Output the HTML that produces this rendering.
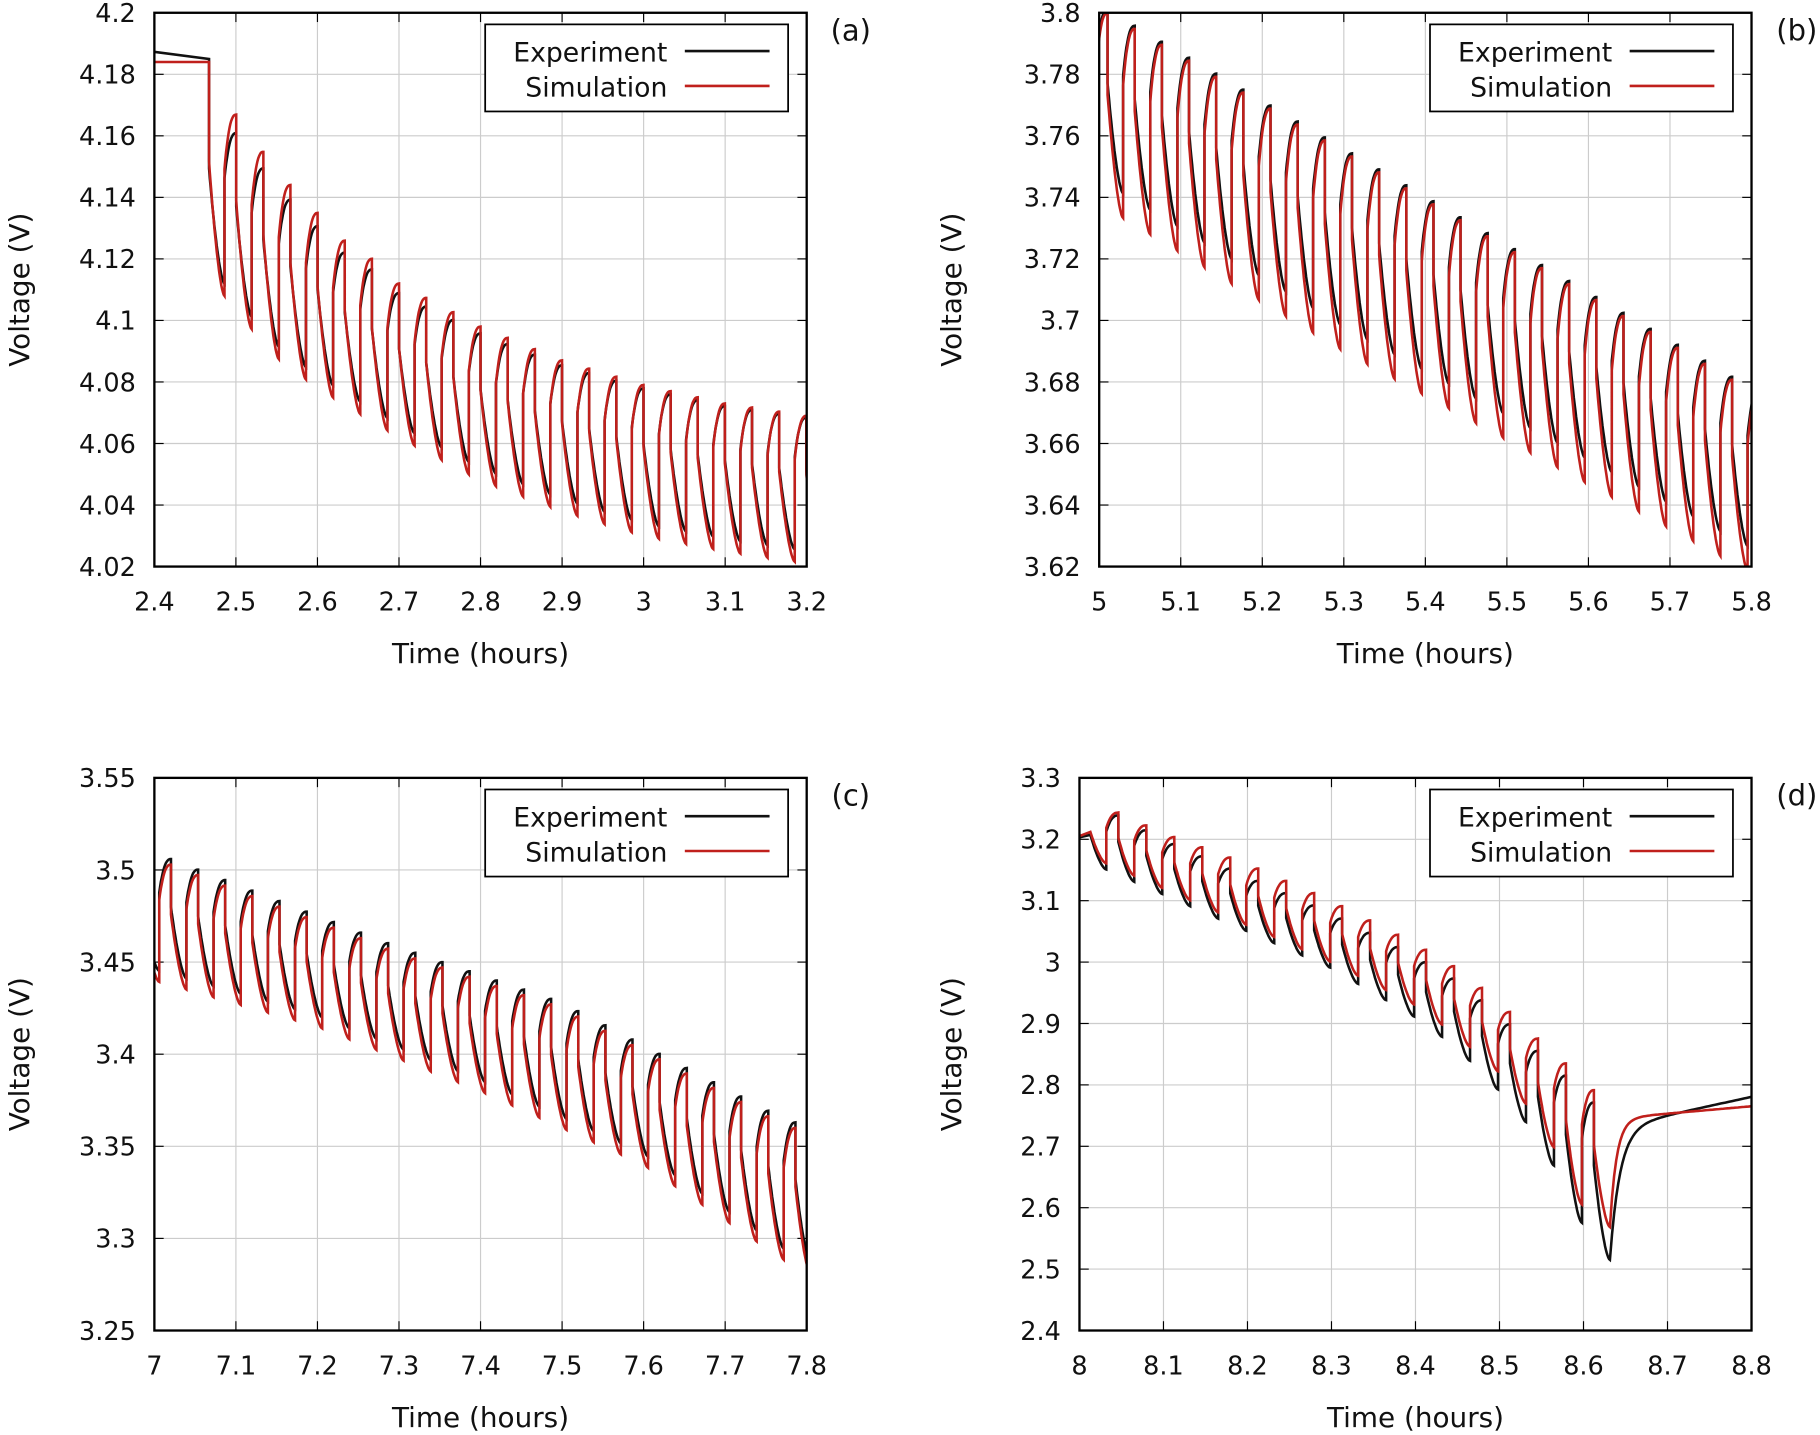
<!DOCTYPE html>
<html><head><meta charset="utf-8">
<style>
html,body{margin:0;padding:0;background:#fff;}
svg{display:block;}
text{font-family:"DejaVu Sans","Liberation Sans",sans-serif;fill:#111;}
</style></head>
<body>
<svg id="s" width="1820" height="1435" viewBox="0 0 1568 1236" preserveAspectRatio="none" xmlns="http://www.w3.org/2000/svg"></svg>
<script>
const S=document.getElementById('s');let out='';
const DF=0.57;
function lerp(k,t){if(t<=k[0][0])return k[0][1];for(let i=1;i<k.length;i++){if(t<=k[i][0]){const a=k[i-1],b=k[i];return a[1]+(b[1]-a[1])*(t-a[0])/(b[0]-a[0]);}}return k[k.length-1][1];}
function gen(start,P,n,Tk,Bk,pre,post,dropF,restF){
  const pts=[];pre(pts);
  for(let k=0;k<n;k++){const ts=start+k*P,te=ts+DF*P,tr=ts+P;
    const B=lerp(Bk,te),T0=lerp(Tk,ts),Tn=lerp(Tk,tr);
    const D0=B+dropF*(T0-B);
    for(let i=0;i<=20;i++){const s=i/20;pts.push([ts+s*(te-ts),B+(D0-B)*Math.pow(1-s,1.6)]);}
    if(k===n-1&&post){post(pts,te,B);return pts;}
    const R0=B+restF*(Tn-B);
    for(let i=0;i<=14;i++){const s=i/14;pts.push([te+s*(tr-te),Tn-(Tn-R0)*Math.pow(1-s,2.5)]);}
  }
  return pts;}
function panel(o){
  const {x0,x1,y0,y1,xmin,xmax,ymin,ymax}=o;
  const X=t=>x0+(t-xmin)/(xmax-xmin)*(x1-x0),Y=v=>y1-(v-ymin)/(ymax-ymin)*(y1-y0);
  const id='c'+o.lab;
  out+=`<clipPath id="${id}"><rect x="${x0}" y="${y0}" width="${x1-x0}" height="${y1-y0}"/></clipPath>`;
  o.xt.forEach(t=>{const x=X(t);out+=`<line x1="${x}" y1="${y0}" x2="${x}" y2="${y1}" stroke="#ccc" stroke-width="1"/><line x1="${x}" y1="${y1}" x2="${x}" y2="${y1-8}" stroke="#000"/><line x1="${x}" y1="${y0}" x2="${x}" y2="${y0+8}" stroke="#000"/><text x="${x}" y="${y1+38}" font-size="22" text-anchor="middle">${+t.toFixed(2)}</text>`;});
  o.yt.forEach(v=>{const y=Y(v);out+=`<line x1="${x0}" y1="${y}" x2="${x1}" y2="${y}" stroke="#ccc" stroke-width="1"/><line x1="${x0}" y1="${y}" x2="${x0+8}" y2="${y}" stroke="#000"/><line x1="${x1}" y1="${y}" x2="${x1-8}" y2="${y}" stroke="#000"/><text x="${x0-16}" y="${y+8}" font-size="22" text-anchor="end">${o.yf(v)}</text>`;});
  const path=(p,c)=>`<path d="M${p.map(q=>X(q[0]).toFixed(1)+','+Y(q[1]).toFixed(1)).join('L')}" fill="none" stroke="${c}" stroke-width="2.2" clip-path="url(#${id})"/>`;
  out+=path(o.exp,'#111')+path(o.sim,'#c0201c');
  out+=`<rect x="${x0}" y="${y0}" width="${x1-x0}" height="${y1-y0}" fill="none" stroke="#000" stroke-width="2"/>`;
  const lx=x1-277,ly=y0+10;
  out+=`<rect x="${lx}" y="${ly}" width="261" height="75" fill="#fff" stroke="#000" stroke-width="1.5"/>
  <text x="${lx+157}" y="${ly+32}" font-size="23" text-anchor="end">Experiment</text><line x1="${lx+172}" y1="${ly+23}" x2="${lx+245}" y2="${ly+23}" stroke="#111" stroke-width="2.2"/>
  <text x="${lx+157}" y="${ly+62}" font-size="23" text-anchor="end">Simulation</text><line x1="${lx+172}" y1="${ly+53}" x2="${lx+245}" y2="${ly+53}" stroke="#c0201c" stroke-width="2.2"/>`;
  out+=`<text x="${o.lx||x1+38}" y="${y0+24}" font-size="25" text-anchor="middle">(${o.lab})</text>`;
  out+=`<text x="${(x0+x1)/2}" y="${y1+83}" font-size="24" text-anchor="middle">Time (hours)</text>`;
  const ax=o.ax||x0-108;const cy=(y0+y1)/2;out+=`<text x="${ax}" y="${cy}" font-size="24" text-anchor="middle" transform="rotate(-90 ${ax} ${cy})">Voltage (V)</text>`;
}
const rng=(a,b,s)=>{const r=[];for(let v=a;v<=b+1e-9;v+=s)r.push(+v.toFixed(4));return r;};
const sh=(k,d)=>k.map(p=>[p[0],p[1]+(typeof d==='function'?d(p[0]):d)]);
// (a)
let Ta=[[2.46,4.184],[2.5,4.167],[2.533,4.155],[2.567,4.144],[2.6,4.135],[2.633,4.126],[2.667,4.12],[2.7,4.112],[2.8,4.098],[2.9,4.087],[3.0,4.079],[3.1,4.073],[3.2,4.069]];
let Ba=[[2.49,4.108],[2.52,4.097],[2.55,4.088],[2.6,4.078],[2.7,4.062],[2.8,4.048],[2.9,4.038],[3.0,4.03],[3.1,4.025],[3.2,4.021]];
const preA=(v0,v1)=>p=>{p.push([2.38,v0]);p.push([2.467,v1]);};
panel({lab:'a',x0:133,x1:695,y0:11,y1:488,xmin:2.4,xmax:3.2,ymin:4.02,ymax:4.2,xt:rng(2.4,3.2,0.1),yt:rng(4.02,4.2,0.02),yf:v=>+v.toFixed(2),
 sim:gen(2.467,0.0333,23,Ta,Ba,preA(4.184,4.184),null,0.6,0.7),
 exp:gen(2.467,0.0333,23,sh(Ta,t=>-0.006*Math.exp(-(t-2.5)/0.3)),sh(Ba,t=>0.004),preA(4.188,4.185),null,0.6,0.7)});
// (b)
let Tb=[[4.97,3.79],[5.01,3.8],[5.8,3.677]];
let Bb=[[5.0,3.738],[5.3,3.69],[5.8,3.618]];
panel({lab:'b',x0:947,x1:1509,y0:11,y1:488,lx:1548,ax:828,xmin:5,xmax:5.8,ymin:3.62,ymax:3.8,xt:rng(5,5.8,0.1),yt:rng(3.62,3.8,0.02),yf:v=>+v.toFixed(2),
 sim:gen(4.977,0.0333,26,Tb,Bb,p=>{},null,0.6,0.7),
 exp:gen(4.977,0.0333,26,sh(Tb,0.001),sh(Bb,0.008),p=>{},null,0.6,0.7)});
// (c)
let Tc=[[6.98,3.49],[7.02,3.503],[7.3,3.455],[7.5,3.425],[7.78,3.36]];
let Bc=[[7.0,3.44],[7.2,3.415],[7.4,3.38],[7.6,3.34],[7.8,3.28]];
panel({lab:'c',x0:133,x1:695,y0:670,y1:1146,xmin:7,xmax:7.8,ymin:3.25,ymax:3.55,xt:rng(7,7.8,0.1),yt:rng(3.25,3.55,0.05),yf:v=>+v.toFixed(2),
 sim:gen(6.987,0.0333,25,Tc,Bc,p=>{},null,0.6,0.7),
 exp:gen(6.987,0.0333,25,sh(Tc,0.003),sh(Bc,0.006),p=>{},null,0.6,0.7)});
// (d)
let Td=[[7.99,3.2],[8.02,3.26],[8.1,3.21],[8.2,3.16],[8.3,3.1],[8.4,3.03],[8.45,2.99],[8.5,2.935],[8.55,2.87],[8.6,2.81],[8.64,2.75]];
let Bd=[[8.0,3.18],[8.1,3.12],[8.2,3.06],[8.3,3.0],[8.4,2.93],[8.45,2.88],[8.5,2.82],[8.55,2.74],[8.6,2.6],[8.64,2.56]];
let Bde=[[8.0,3.17],[8.1,3.11],[8.2,3.05],[8.3,2.99],[8.4,2.91],[8.45,2.86],[8.5,2.79],[8.55,2.71],[8.6,2.57],[8.64,2.5]];
panel({lab:'d',x0:930,x1:1509,y0:670,y1:1146,lx:1548,ax:828,xmin:8,xmax:8.8,ymin:2.4,ymax:3.3,xt:rng(8,8.8,0.1),yt:rng(2.4,3.3,0.1),yf:v=>+v.toFixed(1),
 sim:gen(8.013,0.0333,19,Td,Bd,p=>{p.push([7.99,3.2]);},(p,t0,B)=>{for(let i=0;i<=80;i++){const t=t0+i*0.0025;p.push([t,2.745+0.12*(t-t0)-(2.745-B)*Math.exp(-(t-t0)/0.008)]);}},0.6,0.7),
 exp:gen(8.013,0.0333,19,sh(Td,t=>-0.02*Math.min(1,(t-8)/0.2)),Bde,p=>{p.push([7.99,3.2]);},(p,t0,B)=>{for(let i=0;i<=80;i++){const t=t0+i*0.0025;p.push([t,2.73+0.3*(t-t0)-(2.73-B)*Math.exp(-(t-t0)/0.012)]);}},0.6,0.7)});
S.innerHTML=out;
</script>
</body></html>
